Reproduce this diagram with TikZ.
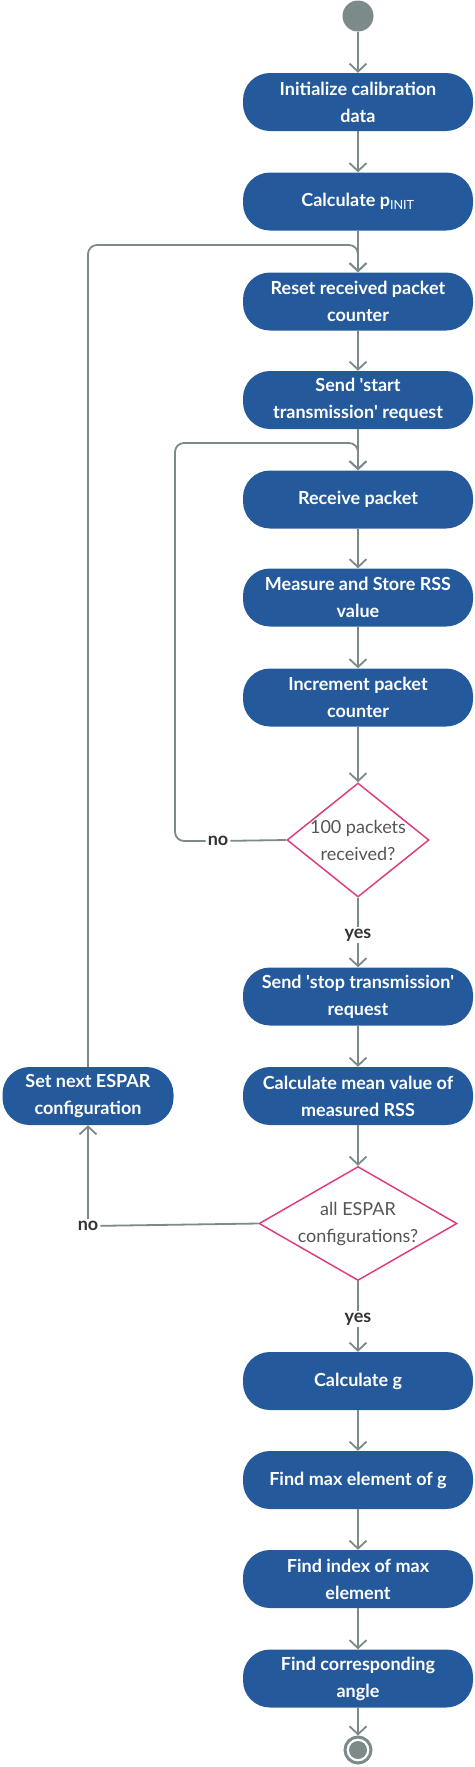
\documentclass[tikz,border=0pt]{standalone}
\usepackage{fontspec}
\setmainfont{Lato}
\usepackage{tikz}
\usetikzlibrary{shapes.geometric, arrows.meta, positioning, calc}
\usepackage{xcolor}
\definecolor{actblue}{HTML}{245A9B}
\definecolor{flowgray}{HTML}{7C8A8A}
\definecolor{decpink}{HTML}{DE3F80}
\definecolor{dectext}{HTML}{555555}
\definecolor{branchtext}{HTML}{333333}
\tikzset{
  action/.style={rectangle, rounded corners=27pt, fill=actblue, text=white,
                 minimum width=230pt, minimum height=58pt, inner sep=0pt,
                 align=center, font=\fontsize{18}{27}\selectfont\bfseries},
  decision/.style={diamond, draw=decpink, line width=1.5pt, fill=white,
                   minimum height=114pt, inner sep=0pt},
  dectxt/.style={text=dectext, align=center, font=\fontsize{18}{27}\selectfont},
  branch/.style={text=branchtext, fill=white, inner sep=2pt,
                 font=\fontsize{18}{22}\selectfont\bfseries},
  flow/.style={-{Straight Barb[length=8pt, width=17pt]}, line width=1.8pt, draw=flowgray},
  plainflow/.style={line width=1.8pt, draw=flowgray},
  loopback/.style={flow, rounded corners=9pt},
  initial/.style={circle, fill=flowgray, minimum size=31pt, inner sep=0pt},
  final/.style={circle, draw=flowgray, line width=3pt, fill=white,
                minimum size=26pt, inner sep=0pt,
                path picture={\fill[flowgray] (path picture bounding box.center) circle (9pt);}},
}

\begin{document}
\begin{tikzpicture}[x=1pt, y=-1pt]   %% pixel grid, y grows downwards
  \useasboundingbox (0,0) rectangle (474,1767);

  %% ── Start / end ──────────────────────────────────────────────────────────
  \node[initial] (start) at (358,16) {};
  \node[final]   (stop)  at (358,1750) {};

  %% ── Main column of actions ───────────────────────────────────────────────
  \node[action] (init)      at (358,102)    {Initialize calibration\\data};
  \node[action] (pinit)     at (358,201.5)  {Calculate p\textsubscript{\mdseries INIT}};
  \node[action] (reset)     at (358,301.5)  {Reset received packet\\counter};
  \node[action] (startreq)  at (358,400)    {Send \textquotesingle start\\transmission\textquotesingle{} request};
  \node[action] (receive)   at (358,499.5)  {Receive packet};
  \node[action] (measure)   at (358,597.5)  {Measure and Store RSS\\value};
  \node[action] (increment) at (358,697.5)  {Increment packet\\counter};
  \node[decision, minimum width=142pt] (enough) at (358,840)
       [label={[dectxt]center:{100 packets\\received?}}] {};
  \node[branch] (yesA)      at (358,935)    {yes};
  \node[action] (stopreq)   at (358,996.5)  {Send \textquotesingle stop transmission\textquotesingle\\request};
  \node[action] (mean)      at (358,1096)   {Calculate mean value of\\measured RSS};
  \node[decision, minimum width=198pt] (allconf) at (358,1223.5)
       [label={[dectxt]center:{all ESPAR\\configurations?}}] {};
  \node[branch] (yesB)      at (358,1319)   {yes};
  \node[action] (calcg)     at (358,1381)   {Calculate $\mathbf{g}$};
  \node[action] (maxg)      at (358,1480)   {Find max element of $\mathbf{g}$};
  \node[action] (index)     at (358,1579)   {Find index of max\\element};
  \node[action] (angle)     at (358,1678.5) {Find corresponding\\angle};

  %% ── Side branch ──────────────────────────────────────────────────────────
  \node[action, minimum width=171pt] (setnext) at (88,1096) {Set next ESPAR\\configuration};
  \node[branch] (noA) at (218,841) {no};
  \node[branch] (noB) at (88,1226) {no};

  \coordinate (outerjoin) at (358,245);
  \coordinate (innerturn) at (175,443);
  \coordinate (innerjoin) at (358,443);

  %% ── Straight flow ────────────────────────────────────────────────────────
  \draw[flow] (start)     -- (init);
  \draw[flow] (init)      -- (pinit);
  \draw[flow] (pinit)     -- (reset);
  \draw[flow] (reset)     -- (startreq);
  \draw[flow] (startreq)  -- (receive);
  \draw[flow] (receive)   -- (measure);
  \draw[flow] (measure)   -- (increment);
  \draw[flow] (increment) -- (enough.north);
  \draw[plainflow] (enough.south) -- (yesA);
  \draw[flow] (yesA)      -- (stopreq);
  \draw[flow] (stopreq)   -- (mean);
  \draw[flow] (mean)      -- (allconf.north);
  \draw[plainflow] (allconf.south) -- (yesB);
  \draw[flow] (yesB)      -- (calcg);
  \draw[flow] (calcg)     -- (maxg);
  \draw[flow] (maxg)      -- (index);
  \draw[flow] (index)     -- (angle);
  \draw[flow] (angle)     -- (stop);

  %% ── Loops back ───────────────────────────────────────────────────────────
  \draw[plainflow] (enough.west) -- (noA);
  \draw[loopback] (noA.west) -| (innerturn) -- (innerjoin) -- (receive.north);
  \draw[plainflow] (allconf.west) -- (noB);
  \draw[flow] (noB) -- (setnext);
  \draw[loopback] (setnext.north) |- (outerjoin) -- (reset.north);

\end{tikzpicture}
\end{document}
